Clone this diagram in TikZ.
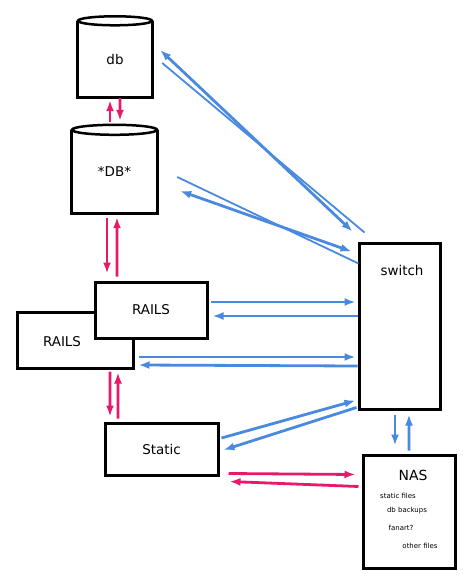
\documentclass[tikz,border=0pt]{standalone}
\usepackage{fontspec}
\setmainfont{DejaVu Sans}
\usetikzlibrary{arrows.meta,calc}

\definecolor{netblue}{HTML}{4A89E0}
\definecolor{netpink}{HTML}{E8196A}

\tikzset{
    box/.style={draw,line width=3bp,fill=white,inner sep=0pt},
    cyl/.style={inner sep=0pt},
    lbl/.style={font=\fontsize{13.5}{15}\selectfont},
    small/.style={font=\fontsize{7}{8}\selectfont},
    tip/.style={-{Latex[length=11bp,width=8bp]}},
    blue/.style={netblue,line width=2.8bp,tip},
    bluethin/.style={netblue,line width=1.8bp},
    pink/.style={netpink,line width=2.8bp,tip}
}

\begin{document}
\begin{tikzpicture}[x=1bp,y=-1bp]
                \useasboundingbox (0,0) rectangle (474,578);
                % databases
                \node[cyl,minimum width=74bp,minimum height=76bp,lbl] (db) at (115,59) {db};
                \node[cyl,minimum width=85bp,minimum height=83bp,lbl] (DB) at (114.5,171.5) {*DB*};
                \draw[line width=3bp] (db.north west) -- (db.south west) -- (db.south east) -- (db.north east);
                \draw[line width=2.5bp] (db.north) ellipse [x radius=37bp, y radius=4.5bp];
                \draw[line width=3bp] (DB.north west) -- (DB.south west) -- (DB.south east) -- (DB.north east);
                \draw[line width=2.5bp] (DB.north) ellipse [x radius=42.5bp, y radius=5bp];
                % boxes
                \node[box,minimum width=115bp,minimum height=56bp] (railsF) at (75.5,340) {};
                \node[lbl] (railsFtext) at ($(railsF.center)+(-13.5,2)$) {RAILS};
                \node[box,minimum width=112bp,minimum height=56bp,lbl] (railsB) at (151,310) {RAILS};
                \node[box,minimum width=113bp,minimum height=52bp,lbl] (static) at (161.5,449) {Static};
                \node[box,minimum width=81bp,minimum height=166bp] (switch) at (399.5,326) {};
                \node[lbl] (switchtext) at ($(switch.north)+(2.5,29)$) {switch};
                \node[box,minimum width=92bp,minimum height=113bp] (nas) at (409,511.5) {};
                \node[font=\fontsize{14}{16}\selectfont] (nastext) at ($(nas.north)+(4,22)$) {NAS};
                \node[small] (f1) at ($(nas.center)+(-11,-15.5)$) {static files};
                \node[small] (f2) at ($(nas.center)+(-2,-0.5)$) {db backups};
                \node[small] (f3) at ($(nas.center)+(-8,16.5)$) {fanart?};
                \node[small] (f4) at ($(nas.center)+(11,34.5)$) {other files};
                % pink links
                \draw[pink] ($(DB.north)+(-4.5,-8)$) -- ($(db.south)+(-5,3)$);
                \draw[pink] ($(db.south)+(5,1)$) -- ($(DB.north)+(5.5,-9)$);
                \draw[pink] ($(DB.south)+(-7.5,5)$) -- ($(railsB.north)+(-44,-7)$);
                \draw[pink] ($(railsB.north)+(-34,-4)$) -- ($(DB.south)+(2.5,4)$);
                \draw[pink] ($(railsF.south)+(34.5,2)$) -- ($(static.north)+(-51.5,-5)$);
                \draw[pink] ($(static.north)+(-43.5,-3)$) -- ($(railsF.south)+(42.5,3)$);
                \draw[pink] ($(static.south east)+(9,-3)$) -- ($(nas.north west)+(-6,21)$);
                \draw[pink] ($(nas.north west)+(-3,33)$) -- ($(static.south east)+(10,5)$);
                % blue links
                \draw[blue,{Latex[length=11bp,width=8bp]}-{Latex[length=11bp,width=8bp]}] ($(db.east)+(8,-9)$) -- ($(switch.north west)+(-5,-10)$);
                \draw[bluethin] ($(db.east)+(10,4)$) -- ($(switch.north west)+(7,-9)$);
                \draw[bluethin] ($(DB.east)+(20,5.5)$) -- ($(switch.north west)+(1,22)$);
                \draw[blue,{Latex[length=11bp,width=8bp]}-{Latex[length=11bp,width=8bp]}] ($(DB.east)+(23,19.5)$) -- ($(switch.north west)+(-6,10)$);
                \draw[blue] ($(railsB.east)+(2,-8)$) -- ($(switch.west |- railsB.east)+(-2,-8)$);
                \draw[blue] ($(switch.west |- railsB.east)+(0,6)$) -- ($(railsB.east)+(4,6)$);
                \draw[blue] ($(railsF.east)+(4,17)$) -- ($(switch.west |- railsF.east)+(-2,17)$);
                \draw[blue] ($(switch.west |- railsF.east)+(0,26)$) -- ($(railsF.east)+(4,25)$);
                \draw[blue] ($(static.east)+(2,-11)$) -- ($(switch.south west)+(-2,-10)$);
                \draw[blue] ($(switch.south west)+(-1,-3)$) -- ($(static.east)+(4,1)$);
                \draw[blue] ($(switch.south)+(-4.5,4)$) -- ($(nas.north)+(-14,-8)$);
                \draw[blue] ($(nas.north)+(0,-3)$) -- ($(switch.south)+(9.5,4)$);
\end{tikzpicture}
\end{document}
